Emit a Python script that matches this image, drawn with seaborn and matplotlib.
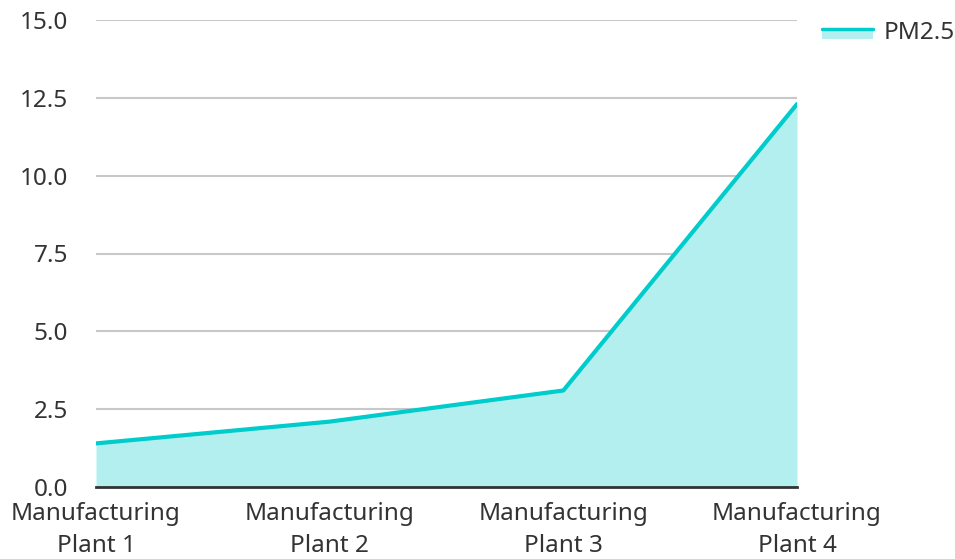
import matplotlib
matplotlib.use("Agg")
import matplotlib.pyplot as plt
import seaborn as sns
import pandas as pd

categories = ["Manufacturing\nPlant 1", "Manufacturing\nPlant 2", "Manufacturing\nPlant 3", "Manufacturing\nPlant 4"]
pm25 = [1.4, 2.1, 3.1, 12.3]
yticks = [0.0, 2.5, 5.0, 7.5, 10.0, 12.5, 15.0]

sns.set_theme(style="white")
plt.rcParams['font.family'] = ['Noto Sans', 'DejaVu Sans']

line_color = "#00CCCC"
fill_color = "#B2EFEE"
text_color = "#333333"
fs = 17.5

df = pd.DataFrame({"x": list(range(len(categories))), "PM2.5": pm25})

fig = plt.figure(figsize=(9.55, 5.59), dpi=100)
ax = fig.add_axes([96/955, 1 - 487/559, (797-96)/955, (487-20)/559])

ax.fill_between(df["x"], 0, df["PM2.5"], color=fill_color, linewidth=0, zorder=1)
sns.lineplot(data=df, x="x", y="PM2.5", ax=ax, color=line_color, linewidth=3, zorder=3, legend=False)

ax.set_xlim(0, len(categories) - 1)
ax.set_ylim(0, 15)
ax.set_yticks(yticks)
ax.set_yticklabels([f"{v:.1f}" for v in yticks])
ax.set_xticks(df["x"])
ax.set_xticklabels(categories)
ax.set_xlabel("")
ax.set_ylabel("")

ax.grid(axis="y", color="#C8C8C8", linewidth=1.5, zorder=0)
ax.set_axisbelow(True)
for s in ["top", "right", "left"]:
    ax.spines[s].set_visible(False)
ax.spines["bottom"].set_color("#333333")
ax.spines["bottom"].set_linewidth(2)
ax.spines["bottom"].set_zorder(4)
ax.tick_params(axis="both", length=0, labelsize=fs, colors=text_color)
ax.tick_params(axis="y", pad=20)
ax.tick_params(axis="x", pad=11)
for lbl in ax.get_xticklabels():
    lbl.set_horizontalalignment("center")
    lbl.set_linespacing(1.42)

from matplotlib.patches import Patch
from matplotlib.lines import Line2D
from matplotlib.legend_handler import HandlerBase
import matplotlib.patches as mpatches

class AreaHandler(HandlerBase):
    def create_artists(self, legend, orig_handle, xdescent, ydescent, width, height, fontsize, trans):
        ly = -ydescent + height * 0.62
        r = mpatches.Rectangle((-xdescent, ly - 7.5), width, 7.5, facecolor=fill_color, edgecolor="none", transform=trans)
        l = Line2D([-xdescent, -xdescent + width], [ly, ly], color=line_color, linewidth=2.5, transform=trans)
        return [r, l]

h = Patch()
leg = fig.legend([h], ["PM2.5"], handler_map={Patch: AreaHandler()}, loc="upper left",
                 bbox_to_anchor=(822/955, 1 - 21/559), frameon=False, fontsize=fs,
                 handlelength=2.1, handleheight=0.6, handletextpad=0.45, borderaxespad=0, borderpad=0)
for t in leg.get_texts():
    t.set_color(text_color)

fig.savefig("out.png", dpi=100)
